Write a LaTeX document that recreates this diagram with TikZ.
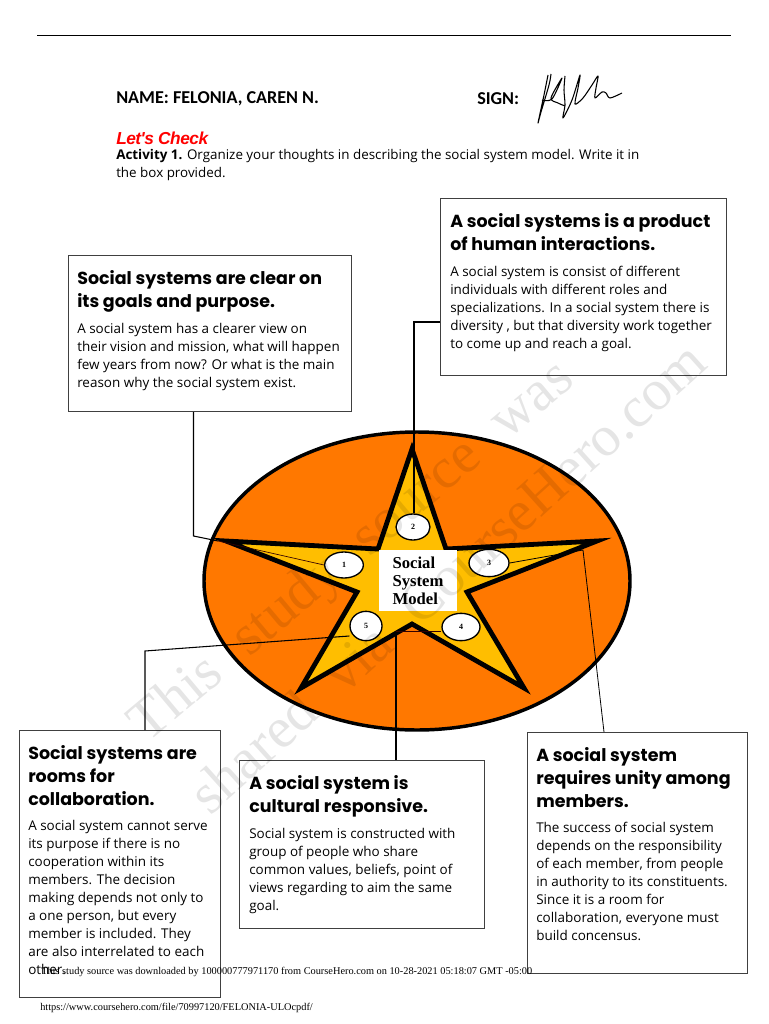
\documentclass[tikz,border=0pt]{standalone}
\usepackage{fontspec}
\setmainfont{Open Sans}
\newfontfamily\headfont{Poppins}
\newfontfamily\namefont{Carlito}
\newfontfamily\timesfont{Liberation Serif}
\newfontfamily\checkfont[LetterSpace=-3]{Liberation Sans}
\usetikzlibrary{shapes.geometric}
\tikzset{
  boxframe/.style={draw=black!75,line width=0.75pt,fill=white,anchor=north west,inner sep=0pt},
  boxtitle/.style={anchor=north west,inner sep=0pt,align=left,font=\headfont\bfseries\fontsize{13.1}{17.2}\selectfont},
  boxtext/.style={anchor=north west,inner sep=0pt,align=left,font=\fontsize{10.1}{13.5}\selectfont},
  numoval/.style={ellipse,draw=black,line width=1pt,fill=white,inner sep=0pt,font=\timesfont\bfseries\fontsize{6}{6}\selectfont},
  link/.style={draw=black,line width=0.8pt},
  thinlink/.style={draw=black!80!red,line width=0.5pt},
  watermark/.style={font=\timesfont\fontsize{43}{43}\selectfont,text=black,opacity=0.1},
  footline/.style={anchor=west,inner sep=0pt,font=\timesfont\fontsize{7.75}{8}\selectfont},
  namestyle/.style={anchor=west,inner sep=0pt,font=\namefont\bfseries\fontsize{13.6}{14}\selectfont},
}
\definecolor{discorange}{RGB}{255,120,0}
\definecolor{stargold}{RGB}{255,190,0}
\begin{document}
\begin{tikzpicture}[x=0.75pt,y=0.75pt,yscale=-1,xscale=1]
\useasboundingbox (0,0) rectangle (768,1024);
\fill[white] (0,0) rectangle (768,1024);
% head of page
\draw[line width=0.7pt] (37,35) -- (731,35);
\node (name) [namestyle] at (116,99) {NAME: FELONIA, CAREN N.};
\node (sign) [namestyle] at (477,99) {SIGN:};
\draw[line width=0.8pt,line join=round] plot[smooth,tension=0.5] coordinates {(548,75) (544,95) (538,123) (541,112) (549,85) (551,74)};
\draw[line width=0.8pt,line join=round] plot[smooth,tension=0.5] coordinates {(542,100) (552,99) (562,78) (551,98) (558,103) (565,106)};
\draw[line width=0.8pt,line join=round] plot[smooth,tension=0.5] coordinates {(565,76) (564,90) (565,105) (563,118) (572,100) (580,75) (578,88) (575,104) (583,98) (592,85) (598,76) (596,88) (595,98) (602,92) (606,93) (610,98) (622,93)};
\node (check) [anchor=west,inner sep=0pt,text=red,font=\checkfont\bfseries\itshape\fontsize{13}{15}\selectfont] at (116,138) {Let's Check};
\node (task) [anchor=north west,inner sep=0pt,align=left,font=\fontsize{10.05}{13.5}\selectfont] at (116,149) {\textbf{Activity 1.} Organize your thoughts in describing the social system model. Write it in\\the box provided.};
% disc and star
\node (disc) [ellipse,draw=black,line width=2.6pt,fill=discorange,minimum width=319.5pt,minimum height=223.5pt,inner sep=0pt] at (417,581) {};
\draw[line width=3.6pt,fill=stargold,miter limit=20] (412,449) -- (446,549) -- (597,541) -- (467,592) -- (524,688) -- (412,624) -- (301,688) -- (357,592) -- (226,541) -- (378,549) -- cycle;
\node (model) [fill=white,minimum width=58.5pt,minimum height=45.75pt,inner sep=0pt,align=left,font=\timesfont\bfseries\fontsize{12.5}{13.5}\selectfont] at (418,580.5) {Social\\System\\Model};
\node (two) [numoval,minimum width=25.5pt,minimum height=19.5pt] at (413,527) {2};
\node (one) [numoval,minimum width=29pt,minimum height=19.5pt] at (344,565) {1};
\node (three) [numoval,minimum width=30pt,minimum height=20.5pt] at (489,563) {3};
\node (four) [numoval,minimum width=28.5pt,minimum height=20.5pt] at (461,627) {4};
\node (five) [numoval,minimum width=24pt,minimum height=22pt] at (366,626) {5};
% boxes
\node (productbox) [boxframe,minimum width=214.5pt,minimum height=132.75pt] at (440,198) {};
\node (goalbox) [boxframe,minimum width=212.25pt,minimum height=117pt] at (68,255) {};
\node (roombox) [boxframe,minimum width=150.75pt,minimum height=200.25pt] at (19,730) {};
\node (culturebox) [boxframe,minimum width=183.75pt,minimum height=126pt] at (239,760) {};
\node (unitybox) [boxframe,minimum width=165pt,minimum height=180.75pt] at (527,732) {};
% connectors
\coordinate (productbend) at (414,322);
\coordinate (goalbend) at (193.5,536);
\coordinate (goalturn) at (218,541);
\coordinate (roombend) at (145,651);
\coordinate (culturebend) at (396,631);
\coordinate (unitybend) at (583,550);
\coordinate (unityfoot) at (604,732);
\draw[link] (productbox.west |- productbend) -- (productbend) -- (two.north -| productbend);
\draw[link] (goalbend |- goalbox.south) -- (goalbend) -- (goalturn);
\draw[thinlink] (goalturn) -- (one.west);
\draw[link] (roombend |- roombox.north) -- (roombend) -- (five.west |- 0,636);
\draw[link] (culturebend |- culturebox.north) -- (culturebend);
\draw[thinlink] (culturebend) -- (four.west |- culturebend);
\draw[link,line width=0.6pt] (unityfoot) -- (unitybend) -- (three.east);
% box texts
\node (producthead) [boxtitle] at (450,213) {A social systems is a product\\of human interactions.};
\node (producttext) [boxtext] at (450,266) {A social system is consist of different\\individuals with different roles and\\specializations. In a social system there is\\diversity , but that diversity work together\\to come up and reach a goal.};
\node (goalhead) [boxtitle] at (77,270) {Social systems are clear on\\its goals and purpose.};
\node (goaltext) [boxtext] at (77,323) {A social system has a clearer view on\\their vision and mission, what will happen\\few years from now? Or what is the main\\reason why the social system exist.};
\node (roomhead) [boxtitle] at (28,745) {Social systems are\\rooms for\\collaboration.};
\node (roomtext) [boxtext] at (28,820) {A social system cannot serve\\its purpose if there is no\\cooperation within its\\members. The decision\\making depends not only to\\a one person, but every\\member is included. They\\are also interrelated to each\\other.};
\node (culturehead) [boxtitle] at (249,775) {A social system is\\cultural responsive.};
\node (culturetext) [boxtext] at (249,828) {Social system is constructed with\\group of people who share\\common values, beliefs, point of\\views regarding to aim the same\\goal.};
\node (unityhead) [boxtitle] at (536,747) {A social system\\requires unity among\\members.};
\node (unitytext) [boxtext] at (536,822) {The success of social system\\depends on the responsibility\\of each member, from people\\in authority to its constituents.\\Since it is a room for\\collaboration, everyone must\\build concensus.};
% foot of page
\node (source) [footline] at (41,972) {This study source was downloaded by 100000777971170 from CourseHero.com on 10-28-2021 05:18:07 GMT -05:00};
\node (url) [footline] at (40,1008) {https://www.coursehero.com/file/70997120/FELONIA-ULOcpdf/};
\node (markone) [watermark,rotate=40] at (353,553) {\spaceskip=0.55em This study source was};
\node (marktwo) [watermark,rotate=42] at (447,577) {\spaceskip=0.55em shared via CourseHero.com};
\end{tikzpicture}
\end{document}
